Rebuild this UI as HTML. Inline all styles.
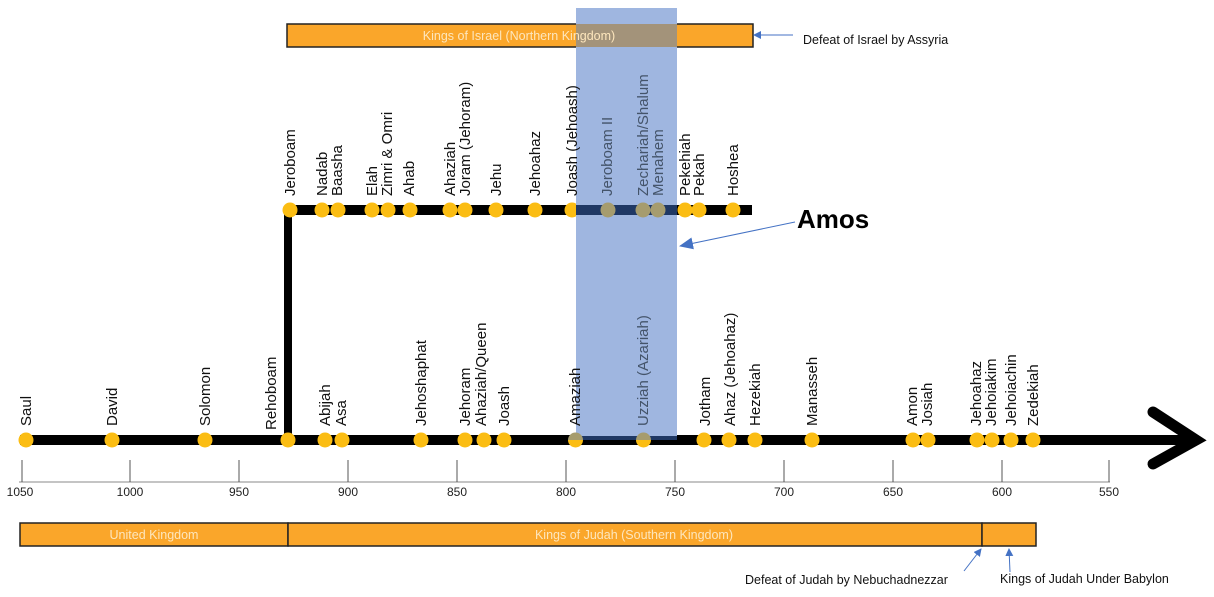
<!DOCTYPE html>
<html><head><meta charset="utf-8"><style>
html,body{margin:0;padding:0;background:#fff;width:1214px;height:597px;overflow:hidden}
svg{display:block}
text{font-family:"Liberation Sans",sans-serif}
.lb{font-size:15px;fill:#111}
.lbt{font-size:15px;fill:#111}
.bar{fill:#faa62a;stroke:#222;stroke-width:1.5}
.bt{font-size:12.5px;fill:#fde6bd;text-anchor:middle}
.tk{font-size:12px;fill:#222;text-anchor:middle}
.an{font-size:12.5px;fill:#111}
</style></head><body>
<svg width="1214" height="597" viewBox="0 0 1214 597">
<defs>
<marker id="ah" markerWidth="8" markerHeight="8" refX="7" refY="4" orient="auto" markerUnits="userSpaceOnUse">
<path d="M0,0 L8,4 L0,8 Z" fill="#4472c4"/></marker>
<marker id="ah2" markerWidth="14" markerHeight="12" refX="13" refY="6" orient="auto" markerUnits="userSpaceOnUse">
<path d="M0,0 L14,6 L0,12 Z" fill="#4472c4"/></marker>
</defs>

<rect class="bar" x="287" y="24" width="466" height="23"/>
<line x1="793" y1="35" x2="754" y2="35" stroke="#4472c4" stroke-width="1" marker-end="url(#ah)"/>
<text class="an" x="803" y="44">Defeat of Israel by Assyria</text>

<g stroke="#555" stroke-width="1">
<line x1="19" y1="482" x2="1110" y2="482" stroke="#888"/>
<line x1="22" y1="460" x2="22" y2="482"/>
<line x1="130" y1="460" x2="130" y2="482"/>
<line x1="239" y1="460" x2="239" y2="482"/>
<line x1="348" y1="460" x2="348" y2="482"/>
<line x1="457" y1="460" x2="457" y2="482"/>
<line x1="566" y1="460" x2="566" y2="482"/>
<line x1="675" y1="460" x2="675" y2="482"/>
<line x1="784" y1="460" x2="784" y2="482"/>
<line x1="893" y1="460" x2="893" y2="482"/>
<line x1="1002" y1="460" x2="1002" y2="482"/>
<line x1="1109" y1="460" x2="1109" y2="482"/>
</g>
<g>
<text class="tk" x="20" y="496">1050</text>
<text class="tk" x="130" y="496">1000</text>
<text class="tk" x="239" y="496">950</text>
<text class="tk" x="348" y="496">900</text>
<text class="tk" x="457" y="496">850</text>
<text class="tk" x="566" y="496">800</text>
<text class="tk" x="675" y="496">750</text>
<text class="tk" x="784" y="496">700</text>
<text class="tk" x="893" y="496">650</text>
<text class="tk" x="1002" y="496">600</text>
<text class="tk" x="1109" y="496">550</text>
</g>

<line x1="20" y1="440" x2="1195" y2="440" stroke="#000" stroke-width="10"/>
<polyline points="1153,412 1196,440 1153,464" fill="none" stroke="#000" stroke-width="11" stroke-linecap="round"/>
<line x1="288" y1="210" x2="752" y2="210" stroke="#000" stroke-width="10"/>
<line x1="288" y1="210" x2="288" y2="440" stroke="#000" stroke-width="8"/>

<g fill="#fbbd13">
<circle cx="26" cy="440" r="7.5"/><circle cx="112" cy="440" r="7.5"/><circle cx="205" cy="440" r="7.5"/>
<circle cx="288" cy="440" r="7.5"/><circle cx="325" cy="440" r="7.5"/><circle cx="342" cy="440" r="7.5"/>
<circle cx="421" cy="440" r="7.5"/><circle cx="465" cy="440" r="7.5"/><circle cx="484" cy="440" r="7.5"/>
<circle cx="504" cy="440" r="7.5"/>
<circle cx="704" cy="440" r="7.5"/><circle cx="729" cy="440" r="7.5"/><circle cx="755" cy="440" r="7.5"/>
<circle cx="812" cy="440" r="7.5"/><circle cx="913" cy="440" r="7.5"/><circle cx="928" cy="440" r="7.5"/>
<circle cx="977" cy="440" r="7.5"/><circle cx="992" cy="440" r="7.5"/><circle cx="1011" cy="440" r="7.5"/>
<circle cx="1033" cy="440" r="7.5"/>
</g>
<g fill="#fbbd13">
<circle cx="290" cy="210" r="7.5"/><circle cx="322" cy="210" r="7.5"/><circle cx="338" cy="210" r="7.5"/>
<circle cx="372" cy="210" r="7.5"/><circle cx="388" cy="210" r="7.5"/><circle cx="410" cy="210" r="7.5"/>
<circle cx="450" cy="210" r="7.5"/><circle cx="465" cy="210" r="7.5"/><circle cx="496" cy="210" r="7.5"/>
<circle cx="535" cy="210" r="7.5"/><circle cx="572" cy="210" r="7.5"/>
<circle cx="685" cy="210" r="7.5"/><circle cx="699" cy="210" r="7.5"/><circle cx="733" cy="210" r="7.5"/>
</g>

<rect x="576" y="8" width="101" height="432" fill="#9fb6e0"/>
<rect x="576" y="24" width="101" height="23" fill="#a3937a"/>
<line x1="576" y1="210" x2="677" y2="210" stroke="#1f3864" stroke-width="10"/>
<rect x="576" y="436" width="101" height="4" fill="#1f3864"/>
<g fill="#a69c6e">
<circle cx="608" cy="210" r="7.5"/><circle cx="643" cy="210" r="7.5"/><circle cx="658" cy="210" r="7.5"/>
</g>
<path d="M568,440 a7.5,7.5 0 0 0 15,0 Z" fill="#fbbd13"/>
<path d="M568,440 a7.5,7.5 0 0 1 15,0 Z" fill="#a69c6e"/>
<path d="M636,440 a7.5,7.5 0 0 0 15,0 Z" fill="#fbbd13"/>
<path d="M636,440 a7.5,7.5 0 0 1 15,0 Z" fill="#a69c6e"/>
<text class="bt" x="519" y="40">Kings of Israel (Northern Kingdom)</text>

<g class="lb">
<text transform="translate(31,426) rotate(-90)">Saul</text>
<text transform="translate(117,426) rotate(-90)">David</text>
<text transform="translate(210,426) rotate(-90)">Solomon</text>
<text transform="translate(276,430) rotate(-90)">Rehoboam</text>
<text transform="translate(330,426) rotate(-90)">Abijah</text>
<text transform="translate(346,426) rotate(-90)">Asa</text>
<text transform="translate(426,426) rotate(-90)">Jehoshaphat</text>
<text transform="translate(470,426) rotate(-90)">Jehoram</text>
<text transform="translate(486,426) rotate(-90)">Ahaziah/Queen</text>
<text transform="translate(509,426) rotate(-90)">Joash</text>
<text transform="translate(580,426) rotate(-90)">Amaziah</text>
<text transform="translate(648,426) rotate(-90)" fill="#44546a">Uzziah (Azariah)</text>
<text transform="translate(710,426) rotate(-90)">Jotham</text>
<text transform="translate(735,426) rotate(-90)">Ahaz (Jehoahaz)</text>
<text transform="translate(760,426) rotate(-90)">Hezekiah</text>
<text transform="translate(817,426) rotate(-90)">Manasseh</text>
<text transform="translate(917,426) rotate(-90)">Amon</text>
<text transform="translate(932,426) rotate(-90)">Josiah</text>
<text transform="translate(981,426) rotate(-90)">Jehoahaz</text>
<text transform="translate(996,426) rotate(-90)">Jehoiakim</text>
<text transform="translate(1016,426) rotate(-90)">Jehoiachin</text>
<text transform="translate(1038,426) rotate(-90)">Zedekiah</text>
</g>
<g class="lbt">
<text transform="translate(295,196) rotate(-90)">Jeroboam</text>
<text transform="translate(327,196) rotate(-90)">Nadab</text>
<text transform="translate(342,196) rotate(-90)">Baasha</text>
<text transform="translate(377,196) rotate(-90)">Elah</text>
<text transform="translate(392,196) rotate(-90)">Zimri &amp; Omri</text>
<text transform="translate(414,196) rotate(-90)">Ahab</text>
<text transform="translate(455,196) rotate(-90)">Ahaziah</text>
<text transform="translate(470,196) rotate(-90)">Joram (Jehoram)</text>
<text transform="translate(501,196) rotate(-90)">Jehu</text>
<text transform="translate(540,196) rotate(-90)">Jehoahaz</text>
<text transform="translate(577,196) rotate(-90)">Joash (Jehoash)</text>
<text transform="translate(612,196) rotate(-90)" fill="#44546a">Jeroboam II</text>
<text transform="translate(648,196) rotate(-90)" fill="#44546a">Zechariah/Shalum</text>
<text transform="translate(663,196) rotate(-90)" fill="#44546a">Menahem</text>
<text transform="translate(690,196) rotate(-90)">Pekehiah</text>
<text transform="translate(704,196) rotate(-90)">Pekah</text>
<text transform="translate(738,196) rotate(-90)">Hoshea</text>
</g>

<text x="797" y="228" style="font-size:26px;font-weight:bold;fill:#000">Amos</text>
<line x1="795" y1="222" x2="680" y2="246" stroke="#4472c4" stroke-width="1" marker-end="url(#ah2)"/>

<rect class="bar" x="20" y="523" width="268" height="23"/>
<rect class="bar" x="288" y="523" width="694" height="23"/>
<rect class="bar" x="982" y="523" width="54" height="23"/>
<text class="bt" x="154" y="539">United Kingdom</text>
<text class="bt" x="634" y="539">Kings of Judah (Southern Kingdom)</text>
<line x1="964" y1="571" x2="981" y2="549" stroke="#4472c4" stroke-width="1" marker-end="url(#ah)"/>
<line x1="1010" y1="572" x2="1009" y2="549" stroke="#4472c4" stroke-width="1" marker-end="url(#ah)"/>
<text class="an" x="745" y="584">Defeat of Judah by Nebuchadnezzar</text>
<text class="an" x="1000" y="583">Kings of Judah Under Babylon</text>
</svg>
</body></html>
